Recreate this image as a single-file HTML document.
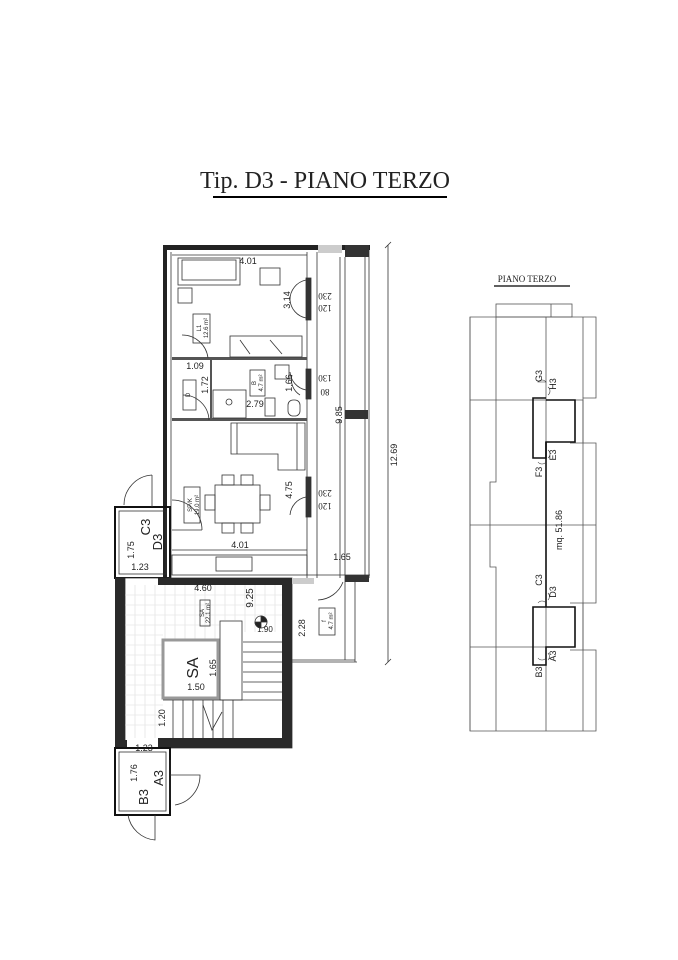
<!DOCTYPE html>
<html><head><meta charset="utf-8"><style>
html,body{margin:0;padding:0;background:#fff;}
svg{display:block;}
text{font-family:"Liberation Sans",sans-serif;fill:#222;}
.s{font-family:"Liberation Serif",serif;}
</style></head><body>
<svg width="678" height="960" viewBox="0 0 678 960" xmlns="http://www.w3.org/2000/svg">
<!-- Title -->
<text x="325" y="188" class="s" font-size="24" text-anchor="middle" style="font-family:'Liberation Serif',serif">Tip. D3 - PIANO TERZO</text>
<line x1="213" y1="197" x2="447" y2="197" stroke="#000" stroke-width="2"/>

<g fill="none" stroke="#333" stroke-width="0.8">
<!-- outer wall of apartment -->
<rect x="163" y="245" width="207" height="5" fill="#222" stroke="none"/>
<rect x="163" y="245" width="4" height="333" fill="#222" stroke="none"/>
<line x1="171" y1="252" x2="171" y2="578"/>
<rect x="318" y="245" width="24" height="8" fill="#ccc" stroke="none"/>
<rect x="345" y="245" width="24" height="12" fill="#333" stroke="none"/>
<rect x="345" y="410" width="23" height="9" fill="#333" stroke="none"/>
<!-- balcony lines -->
<line x1="307" y1="252" x2="307" y2="578"/>
<line x1="317" y1="252" x2="317" y2="578"/>
<line x1="340" y1="257" x2="340" y2="410"/><line x1="340" y1="419" x2="340" y2="578"/>
<line x1="345" y1="257" x2="345" y2="578"/>
<line x1="365" y1="257" x2="365" y2="578"/>
<line x1="369" y1="250" x2="369" y2="578"/>
<line x1="307" y1="575" x2="370" y2="575"/>
<!-- windows -->
<rect x="306" y="278" width="5" height="42" fill="#333"/>
<rect x="306" y="369" width="5" height="30" fill="#333"/>
<rect x="306" y="477" width="5" height="40" fill="#333"/>
<path d="M306 280 A20 20 0 0 0 290 300 M306 318 A20 20 0 0 1 290 300"/>
<path d="M306 497 A20 20 0 0 0 290 515"/>
<path d="M306 390 A20 20 0 0 1 290 372"/>
<!-- partitions -->
<rect x="172" y="357" width="135" height="3" fill="#555" stroke="none"/>
<rect x="172" y="418" width="135" height="3" fill="#555" stroke="none"/>
<rect x="210" y="360" width="2" height="58" fill="#555" stroke="none"/>
<line x1="172" y1="255" x2="307" y2="255"/>
<line x1="172" y1="550" x2="307" y2="550"/>
<!-- L1 furniture -->
<rect x="178" y="258" width="62" height="27"/>
<rect x="182" y="260" width="54" height="20"/>
<rect x="260" y="268" width="20" height="17"/>
<rect x="178" y="288" width="14" height="15"/>
<rect x="230" y="336" width="72" height="21"/>
<line x1="240" y1="340" x2="250" y2="354"/><line x1="270" y1="340" x2="282" y2="354"/>
<path d="M182 335 A26 26 0 0 1 208 358"/>
<!-- bath -->
<rect x="213" y="390" width="33" height="28"/>
<circle cx="229" cy="402" r="3"/>
<rect x="265" y="398" width="10" height="18"/>
<rect x="288" y="400" width="12" height="16" rx="5"/>
<rect x="275" y="365" width="14" height="14"/>
<path d="M183 395 A26 26 0 0 1 209 420"/>
<path d="M292 375 A18 18 0 0 0 300 395"/>
<!-- living furniture -->
<path d="M231 423 H305 V470 H278 V454 H231 Z"/>
<line x1="237" y1="423" x2="237" y2="454"/><line x1="297" y1="423" x2="297" y2="470"/>
<rect x="215" y="485" width="45" height="38"/>
<rect x="222" y="475" width="12" height="10"/><rect x="241" y="475" width="12" height="10"/>
<rect x="222" y="523" width="12" height="10"/><rect x="241" y="523" width="12" height="10"/>
<rect x="205" y="495" width="10" height="15"/><rect x="260" y="495" width="10" height="15"/>
<!-- kitchen -->
<rect x="172" y="555" width="135" height="20"/>
<rect x="216" y="557" width="36" height="14"/>
<path d="M172 500 A30 30 0 0 1 202 530 M202 530 H172"/>
<!-- entrance C3 D3 -->
<rect x="115" y="507" width="55" height="71" fill="none" stroke="#111" stroke-width="2"/>
<rect x="119" y="511" width="47" height="63"/>
<path d="M152 507 V475 M152 475 A30 30 0 0 0 124 505"/>
<!-- staircase block -->
<path d="M115 578 H292 V748 H160 V748 H125 V578" fill="#fff"/>
</g>
<g stroke="#ddd" stroke-width="0.6">
<path d="M135 585V738M145 585V738M155 585V738M165 585V640M175 585V640M185 585V640M195 585V640M205 585V640M215 585V640M225 585V620M235 585V620M245 585V632M255 585V632M265 585V632M275 585V632"/>
<path d="M125 595H282M125 605H282M125 615H282M125 625H220M125 635H163M125 645H163M125 655H163M125 665H163M125 675H163M125 685H163M125 695H163M125 705H163M125 715H163M125 725H163"/>
</g>
<g fill="none" stroke="#333" stroke-width="0.8">
<rect x="115" y="578" width="10" height="170" fill="#2a2a2a" stroke="none"/>
<rect x="158" y="578" width="134" height="7" fill="#2a2a2a" stroke="none"/>
<rect x="282" y="578" width="10" height="170" fill="#2a2a2a" stroke="none"/>
<rect x="158" y="738" width="134" height="10" fill="#2a2a2a" stroke="none"/>
<rect x="115" y="740" width="12" height="8" fill="#2a2a2a" stroke="none"/>
<rect x="220" y="621" width="22" height="79"/>
<rect x="163" y="640" width="55" height="58" stroke="#999" stroke-width="3"/>
<path d="M243 642H282M243 652H282M243 662H282M243 672H282M243 682H282M243 692H282"/>
<path d="M173 700V738M183 700V738M193 700V738M203 700V738M213 700V738M223 700V738M233 700V738M163 700H282"/>
<path d="M203 705L212 730L222 712"/>
<circle cx="261" cy="622" r="6" fill="#fff"/>
<path d="M261 616A6 6 0 0 1 267 622H261Z M261 628A6 6 0 0 1 255 622H261Z" fill="#222"/>
<!-- small balcony -->
<line x1="292" y1="660" x2="355" y2="660"/><line x1="292" y1="662" x2="357" y2="662"/>
<line x1="345" y1="578" x2="345" y2="660"/><line x1="355" y1="578" x2="355" y2="662"/>
<rect x="292" y="578" width="22" height="6" fill="#ccc" stroke="none"/>
<rect x="345" y="575" width="24" height="7" fill="#333" stroke="none"/>
<path d="M343 582 A28 28 0 0 1 318 600"/>
<!-- A3 B3 -->
<rect x="115" y="748" width="55" height="67" stroke="#111" stroke-width="2"/>
<rect x="119" y="752" width="47" height="59"/>
<line x1="170" y1="760" x2="170" y2="800"/>
<path d="M170 775 H200 A30 30 0 0 1 175 805"/>
<path d="M128 815 A30 30 0 0 0 155 840 V815"/>
<!-- dimension line -->
<line x1="388" y1="245" x2="388" y2="662"/>
<line x1="385" y1="248" x2="391" y2="242"/><line x1="385" y1="665" x2="391" y2="659"/>
<!-- label boxes -->
<rect x="193" y="314" width="17" height="29"/>
<rect x="250" y="370" width="15" height="26"/>
<rect x="183" y="380" width="13" height="30"/>
<rect x="184" y="487" width="16" height="36"/>
<rect x="200" y="600" width="10" height="26"/>
<rect x="319" y="608" width="16" height="27"/>
</g>
<g font-size="9">
<text x="248" y="264" text-anchor="middle">4.01</text>
<text x="195" y="369" text-anchor="middle">1.09</text>
<text x="255" y="407" text-anchor="middle">2.79</text>
<text x="240" y="548" text-anchor="middle">4.01</text>
<text x="342" y="560" text-anchor="middle">1.65</text>
<text x="140" y="570" text-anchor="middle">1.23</text>
<text x="203" y="591" text-anchor="middle">4.60</text>
<text x="196" y="690" text-anchor="middle">1.50</text>
<text x="144" y="751" text-anchor="middle">1.23</text>
<text x="265" y="632" text-anchor="middle" font-size="8">1.90</text>
<text transform="translate(290,300) rotate(-90)" text-anchor="middle">3.14</text>
<text transform="translate(208,385) rotate(-90)" text-anchor="middle">1.72</text>
<text transform="translate(292,383) rotate(-90)" text-anchor="middle">1.66</text>
<text transform="translate(342,415) rotate(-90)" text-anchor="middle">9.85</text>
<text transform="translate(292,490) rotate(-90)" text-anchor="middle">4.75</text>
<text transform="translate(134,550) rotate(-90)" text-anchor="middle">1.75</text>
<text transform="translate(253,598) rotate(-90)" text-anchor="middle" font-size="10">9.25</text>
<text transform="translate(216,668) rotate(-90)" text-anchor="middle">1.65</text>
<text transform="translate(305,628) rotate(-90)" text-anchor="middle">2.28</text>
<text transform="translate(165,718) rotate(-90)" text-anchor="middle">1.20</text>
<text transform="translate(137,773) rotate(-90)" text-anchor="middle">1.76</text>
<text transform="translate(397,455) rotate(-90)" text-anchor="middle">12.69</text>
<text transform="translate(325,293) rotate(180)" text-anchor="middle" class="s" style="font-family:'Liberation Serif',serif">230</text>
<text transform="translate(325,305) rotate(180)" text-anchor="middle" style="font-family:'Liberation Serif',serif">120</text>
<text transform="translate(325,375) rotate(180)" text-anchor="middle" style="font-family:'Liberation Serif',serif">130</text>
<text transform="translate(325,389) rotate(180)" text-anchor="middle" style="font-family:'Liberation Serif',serif">80</text>
<text transform="translate(325,490) rotate(180)" text-anchor="middle" style="font-family:'Liberation Serif',serif">230</text>
<text transform="translate(325,503) rotate(180)" text-anchor="middle" style="font-family:'Liberation Serif',serif">120</text>
</g>
<g font-size="6">
<text transform="translate(201,328) rotate(-90)" text-anchor="middle">L1</text>
<text transform="translate(208,328) rotate(-90)" text-anchor="middle">12.6 m²</text>
<text transform="translate(256,383) rotate(-90)" text-anchor="middle">B</text>
<text transform="translate(263,383) rotate(-90)" text-anchor="middle">4.7 m²</text>
<text transform="translate(190,395) rotate(-90)" text-anchor="middle">D</text>
<text transform="translate(192,505) rotate(-90)" text-anchor="middle">SP/K</text>
<text transform="translate(199,505) rotate(-90)" text-anchor="middle">19.0 m²</text>
<text transform="translate(204,613) rotate(-90)" text-anchor="middle">SA</text>
<text transform="translate(210,613) rotate(-90)" text-anchor="middle">22.1 m²</text>
<text transform="translate(326,621) rotate(-90)" text-anchor="middle">f</text>
<text transform="translate(333,621) rotate(-90)" text-anchor="middle">4.7 m²</text>
</g>
<g font-size="13">
<text transform="translate(150,527) rotate(-90)" text-anchor="middle">C3</text>
<text transform="translate(162,542) rotate(-90)" text-anchor="middle">D3</text>
<text transform="translate(163,778) rotate(-90)" text-anchor="middle">A3</text>
<text transform="translate(148,797) rotate(-90)" text-anchor="middle">B3</text>
<text transform="translate(198,668) rotate(-90)" text-anchor="middle" font-size="16">SA</text>
</g>

<!-- Mini plan -->
<text x="527" y="282" font-size="9" text-anchor="middle" style="font-family:'Liberation Serif',serif">PIANO TERZO</text>
<line x1="494" y1="286" x2="570" y2="286" stroke="#000" stroke-width="1.2"/>
<g fill="none" stroke="#555" stroke-width="0.8">
<rect x="496" y="304" width="76" height="13"/>
<line x1="551" y1="304" x2="551" y2="317"/>
<path d="M470 317 H596 V398 H583 V443 H596 V603 H583 V650 H596 V731 H470 Z"/>
<path d="M470 317 V731"/>
<path d="M496 317 V482 H490 V567 H496 V731"/>
<path d="M546 317 V731"/>
<path d="M583 317 V398 M583 443 V603 M583 650 V731"/>
<path d="M470 400 H546 M470 525 H596 M470 647 H546"/>
<path d="M570 400 H583 V443 H570 M570 603 H583 V650 H570"/>
</g>
<g fill="none" stroke="#111" stroke-width="1.6">
<path d="M546 398 H533 V458 H546 V442 H575 V400 H546"/>
<path d="M546 442 V607 M546 607 H575 V647 H546 V665 H533 V607 H546"/>
</g>
<g fill="none" stroke="#333" stroke-width="0.6">
<path d="M538 382 A5 5 0 0 1 546 382 Z M548 387 A5 5 0 0 1 548 395"/>
<path d="M538 462 A5 5 0 0 0 546 462 M548 450 A5 5 0 0 1 548 458"/>
<path d="M538 603 A5 5 0 0 1 546 603 M548 593 A5 5 0 0 1 548 600"/>
<path d="M538 658 A5 5 0 0 0 546 658 M548 653 A5 5 0 0 1 548 660"/>
</g>
<g font-size="9" style="font-family:'Liberation Serif',serif">
<text transform="translate(542,376) rotate(-90)" text-anchor="middle">G3</text>
<text transform="translate(556,384) rotate(-90)" text-anchor="middle">H3</text>
<text transform="translate(556,455) rotate(-90)" text-anchor="middle">E3</text>
<text transform="translate(542,472) rotate(-90)" text-anchor="middle">F3</text>
<text transform="translate(562,530) rotate(-90)" text-anchor="middle">mq. 51.86</text>
<text transform="translate(542,580) rotate(-90)" text-anchor="middle">C3</text>
<text transform="translate(556,592) rotate(-90)" text-anchor="middle">D3</text>
<text transform="translate(556,656) rotate(-90)" text-anchor="middle">A3</text>
<text transform="translate(542,672) rotate(-90)" text-anchor="middle">B3</text>
</g>
</svg>
</body></html>
